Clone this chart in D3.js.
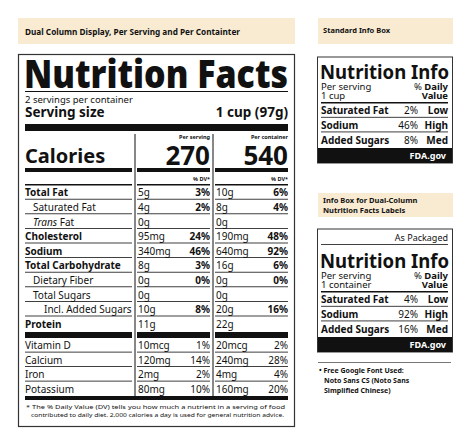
<!DOCTYPE html>
<html><head><meta charset="utf-8">
<script src="https://cdn.jsdelivr.net/npm/d3@7"></script>
<style>body{margin:0;background:#fff}text{font-family:"Noto Sans",sans-serif}</style>
</head><body><div id="chart"></div>
<script>
const nutrients = ["Total Fat","Saturated Fat","Trans Fat","Cholesterol","Sodium","Total Carbohydrate","Dietary Fiber","Total Sugars","Incl. Added Sugars","Protein"];
const servingAmt = ["5g","4g","0g","95mg","340mg","8g","0g","0g","10g","11g"];
const servingDV = ["3%","2%","","24%","46%","3%","0%","","8%",""];
const containerAmt = ["10g","8g","0g","190mg","640mg","16g","0g","0g","20g","22g"];
const containerDV = ["6%","4%","","48%","92%","6%","0%","","16%",""];
const indent = [0,1,1,0,0,0,1,1,2,0];
const vitamins = ["Vitamin D","Calcium","Iron","Potassium"];
const vitServingAmt = ["10mcg","120mg","2mg","80mg"];
const vitServingDV = ["1%","14%","2%","10%"];
const vitContainerAmt = ["20mcg","240mg","4mg","160mg"];
const vitContainerDV = ["2%","28%","4%","20%"];
const infoNutrients = ["Saturated Fat","Sodium","Added Sugars"];
const infoDV1 = ["2%","46%","8%"];
const infoDV2 = ["4%","92%","16%"];
const infoLevel = ["Low","High","Med"];

const W = 474, H = 440;
const svg = d3.select("#chart").append("svg").attr("width", W).attr("height", H);
const band = "#f8ebd2";

function txt(g, x, y, s, size, weight, anchor, fill) {
  return g.append("text").attr("x", x).attr("y", y).attr("font-size", size)
    .attr("font-weight", weight || 400).attr("text-anchor", anchor || "start")
    .attr("fill", fill || "#111").text(s);
}
function rect(g, x, y, w, h, fill) {
  g.append("rect").attr("x", x).attr("y", y).attr("width", w).attr("height", h).attr("fill", fill || "#111");
}
function fit(t, len) { return t.attr("textLength", len).attr("lengthAdjust", "spacingAndGlyphs"); }

// ---- main label
const L = svg.append("g");
rect(L, 18, 18, 277, 26, band);
fit(txt(L, 25, 35, "Dual Column Display, Per Serving and Per Containter", 8.5, 700), 215);
L.append("rect").attr("x", 18.5).attr("y", 54.5).attr("width", 276).attr("height", 372)
  .attr("fill", "none").attr("stroke", "#333").attr("stroke-width", 1.2);
fit(txt(L, 24, 88, "Nutrition Facts", 38.5, 900), 264);
rect(L, 25, 91, 263, 1);
txt(L, 25, 103, "2 servings per container", 9.5);
txt(L, 25, 117, "Serving size", 13.5, 700);
txt(L, 288, 117, "1 cup (97g)", 13.5, 700, "end");
rect(L, 25, 124, 263, 7);

const cols = {lab: [25, 132], c1: [137, 210], c2: [215, 288]};
[135, 213].forEach(x => L.append("line").attr("x1", x).attr("x2", x).attr("y1", 134).attr("y2", 397)
  .attr("stroke", "#111").attr("stroke-width", 1));

txt(L, 210, 139, "Per serving", 5.5, 700, "end");
txt(L, 288, 139, "Per container", 5.5, 700, "end");
txt(L, 25, 163, "Calories", 20, 700);
txt(L, 210, 165, "270", 26, 700, "end");
txt(L, 288, 165, "540", 26, 700, "end");
Object.values(cols).forEach(c => rect(L, c[0], 168, c[1] - c[0], 4));
txt(L, 210, 181, "% DV*", 5.5, 700, "end");
txt(L, 288, 181, "% DV*", 5.5, 700, "end");
Object.values(cols).forEach(c => rect(L, c[0], 184, c[1] - c[0], 1.5));

const y = d3.scaleBand().domain(nutrients).range([185, 331]);
const yv = d3.scaleBand().domain(vitamins).range([338, 396]);

function rows(names, scale, a1, d1, a2, d2, bold, ind) {
  names.forEach((n, i) => {
    const top = scale(n), base = top + scale.bandwidth() - 3.2;
    const b = bold ? bold(i) : false;
    const lab = txt(L, 25 + (ind ? ind[i] * 8 : 0) + (ind && ind[i] === 2 ? 3 : 0), base, "", 10, b ? 700 : 400);
    if (n === "Trans Fat") { lab.append("tspan").attr("font-style", "italic").text("Trans"); lab.append("tspan").text(" Fat"); }
    else lab.text(n);
    txt(L, 138, base, a1[i], 10);
    txt(L, 210, base, d1[i], 10, bold ? 700 : 400, "end");
    txt(L, 216, base, a2[i], 10);
    txt(L, 288, base, d2[i], 10, bold ? 700 : 400, "end");
    if (i < names.length - 1) Object.values(cols).forEach(c => rect(L, c[0], top + scale.bandwidth() - 0.8, c[1] - c[0], 0.8));
  });
}
rows(nutrients, y, servingAmt, servingDV, containerAmt, containerDV, i => indent[i] === 0, indent);
Object.values(cols).forEach(c => rect(L, c[0], 332, c[1] - c[0], 6));
rows(vitamins, yv, vitServingAmt, vitServingDV, vitContainerAmt, vitContainerDV, null, null);
rect(L, 25, 396, 263, 4);
fit(txt(L, 26, 409, "* The % Daily Value (DV) tells you how much a nutrient in a serving of  food", 5.8), 259);
fit(txt(L, 31, 417, "contributed to daily diet. 2,000 calories a day is used for general nutrition advice.", 5.8), 253);

// ---- info boxes
function infoBox(top, headerLines, serving, dvs, packaged) {
  const g = svg.append("g");
  rect(g, 318, top, 135, headerLines.length > 1 ? 24 : 26, band);
  headerLines.forEach((h, i) => txt(g, 323, top + (headerLines.length > 1 ? 10 + i * 10 : 15), h, 7.5, 700));
  let by = top + (headerLines.length > 1 ? 36 : 39);
  const bh = packaged ? 123 : 106;
  g.append("rect").attr("x", 317.5).attr("y", by).attr("width", 135).attr("height", bh)
    .attr("fill", "none").attr("stroke", "#333").attr("stroke-width", 1);
  let cy = by;
  if (packaged) {
    txt(g, 448, cy + 12, "As Packaged", 9, 400, "end");
    rect(g, 321, cy + 15, 127, 0.8);
    cy += 17;
  }
  fit(txt(g, 320, cy + 22, "Nutrition Info", 20, 700), 129);
  txt(g, 321, cy + 32.5, "Per serving", 9.5);
  txt(g, 321, cy + 42, serving, 9.5);
  const dv = txt(g, 448, cy + 32.5, "", 9.5, 700, "end");
  dv.append("tspan").attr("font-weight", 400).text("% ");
  dv.append("tspan").text("Daily");
  txt(g, 448, cy + 42, "Value", 9.5, 700, "end");
  rect(g, 321, cy + 45, 127, 1.5);
  const ry = d3.scaleBand().domain(infoNutrients).range([cy + 46, cy + 90]);
  infoNutrients.forEach((n, i) => {
    const b = ry(n) + ry.bandwidth() - 3.5;
    txt(g, 321, b, n, 10, 700);
    txt(g, 418, b, dvs[i], 10, 400, "end");
    txt(g, 448, b, infoLevel[i], 10, 700, "end");
    if (i < 2) rect(g, 321, ry(n) + ry.bandwidth() - 0.8, 127, 0.8);
  });
  rect(g, 318, cy + 91, 134, 15);
  txt(g, 446, cy + 102, "FDA.gov", 9, 700, "end", "#fff");
}
infoBox(18, ["Standard Info Box"], "1 cup", infoDV1, false);
infoBox(193, ["Info Box for Dual-Column", "Nutrition Facts Labels"], "1 container", infoDV2, true);

const f = svg.append("g");
rect(f, 318, 362, 133, 0.8, "#555");
txt(f, 319, 373, "• Free Google Font Used:", 7, 700);
txt(f, 324, 383, "Noto Sans CS (Noto Sans", 7, 700);
txt(f, 324, 393, "Simplified Chinese)", 7, 700);
</script></body></html>
